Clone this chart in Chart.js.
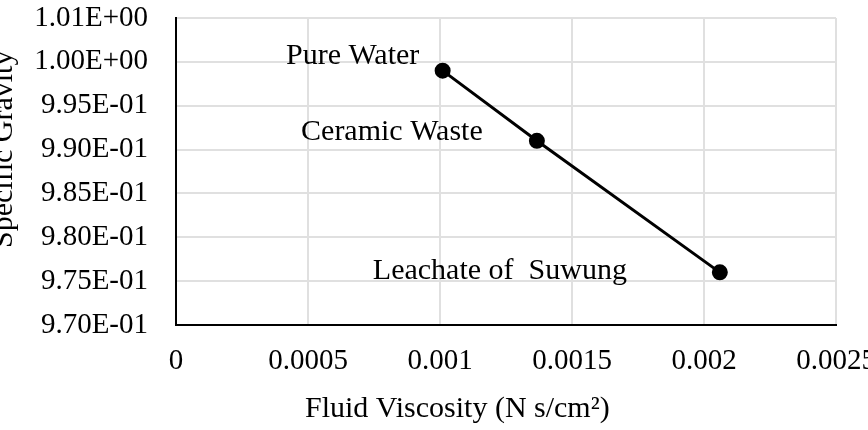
<!DOCTYPE html>
<html>
<head>
<meta charset="utf-8">
<script src="https://cdn.jsdelivr.net/npm/chart.js@4/dist/chart.umd.min.js"></script>
<style>
  html, body { margin: 0; padding: 0; background: #fff; overflow: hidden; }
  #wrap { position: relative; width: 868px; height: 430px; overflow: hidden; }
  #chart { position: absolute; left: 0; top: 0; }
</style>
</head>
<body>
<div id="wrap"><canvas id="chart" width="900" height="430"></canvas></div>
<script>
// Fluid viscosity vs specific gravity
const fluids = ['Pure Water', 'Ceramic Waste', 'Leachate of  Suwung'];
const viscosity = [0.00101, 0.001367, 0.00206];
const gravity = [0.999, 0.991, 0.976];

const xTicks = [0, 0.0005, 0.001, 0.0015, 0.002, 0.0025];
const xTickLabels = ['0', '0.0005', '0.001', '0.0015', '0.002', '0.0025'];
const yTicks = [0.970, 0.975, 0.980, 0.985, 0.990, 0.995, 1.000, 1.005];
const yTickLabels = ['9.70E-01', '9.75E-01', '9.80E-01', '9.85E-01',
                     '9.90E-01', '9.95E-01', '1.00E+00', '1.01E+00'];

const xTitle = 'Fluid Viscosity (N s/cm²)';
const yTitle = 'Specific Gravity';

// label offsets from each point (px)
const labelShift = [[-90, -15], [-145, -9], [-220, -1]];

const serif = '"Liberation Serif", "Times New Roman", serif';
const tickFont = { family: serif, size: 29 };
const textFont = '30px ' + serif;

// data labels next to the points
const pointLabels = {
    id: 'pointLabels',
    afterDatasetsDraw(chart) {
        const ctx = chart.ctx;
        const meta = chart.getDatasetMeta(0);
        ctx.save();
        ctx.font = textFont;
        ctx.fillStyle = '#000';
        ctx.textAlign = 'center';
        ctx.textBaseline = 'middle';
        meta.data.forEach((pt, i) => {
            ctx.fillText(fluids[i], pt.x + labelShift[i][0], pt.y + labelShift[i][1]);
        });
        ctx.restore();
    }
};

// axis titles, placed like the original (not centred on the axes)
const axisTitles = {
    id: 'axisTitles',
    afterDraw(chart) {
        const ctx = chart.ctx;
        const a = chart.chartArea;
        ctx.save();
        ctx.font = textFont;
        ctx.fillStyle = '#000';
        ctx.textAlign = 'left';
        ctx.textBaseline = 'alphabetic';
        ctx.fillText(xTitle, a.left + 129, a.bottom + 92);
        ctx.translate(11.5, a.bottom - 77);
        ctx.rotate(-Math.PI / 2);
        ctx.fillText(yTitle, 0, 0);
        ctx.restore();
    }
};

new Chart(document.getElementById('chart'), {
    type: 'scatter',
    data: {
        datasets: [{
            data: viscosity.map((v, i) => ({ x: v, y: gravity[i] })),
            showLine: true,
            borderColor: '#000',
            borderWidth: 3,
            backgroundColor: '#000',
            pointRadius: 6.5,
            pointHoverRadius: 6.5
        }]
    },
    options: {
        responsive: false,
        animation: false,
        layout: { padding: { top: 18, right: 64, left: 0, bottom: 0 } },
        plugins: { legend: { display: false }, tooltip: { enabled: false } },
        scales: {
            x: {
                type: 'linear',
                min: 0,
                max: 0.0025,
                afterFit(scale) { scale.height = 105; },
                afterBuildTicks(scale) {
                    scale.ticks = xTicks.map(v => ({ value: v }));
                },
                grid: { color: '#e0e0e0', lineWidth: 2, drawTicks: false },
                border: { color: '#000', width: 2 },
                ticks: {
                    padding: 19,
                    color: '#000',
                    font: tickFont,
                    maxRotation: 0,
                    autoSkip: false,
                    callback: (v, i) => xTickLabels[i]
                }
            },
            y: {
                min: 0.97,
                max: 1.005,
                afterFit(scale) {
                    scale.width = 176;
                    // tick padding should not push the plot down
                    scale.paddingTop = 0;
                    scale.paddingBottom = 0;
                },
                afterBuildTicks(scale) {
                    scale.ticks = yTicks.map(v => ({ value: v }));
                },
                grid: { color: '#e0e0e0', lineWidth: 2, drawTicks: false },
                border: { color: '#000', width: 2 },
                ticks: {
                    padding: 28,
                    color: '#000',
                    font: tickFont,
                    autoSkip: false,
                    callback: (v, i) => yTickLabels[i]
                }
            }
        }
    },
    plugins: [pointLabels, axisTitles]
});
</script>
</body>
</html>
